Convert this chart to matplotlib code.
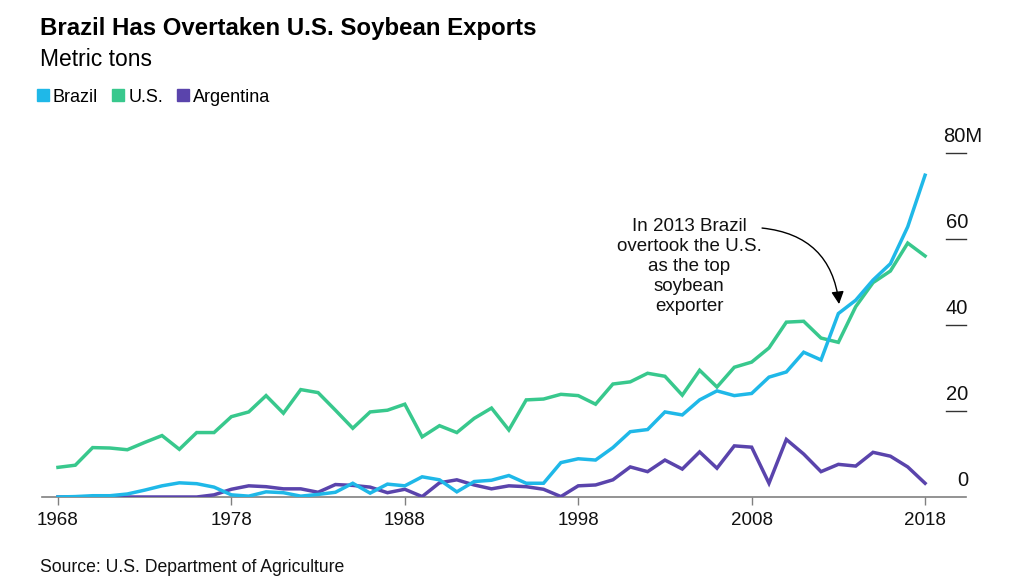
import matplotlib.pyplot as plt
from matplotlib.patches import Rectangle
from matplotlib.transforms import blended_transform_factory

plt.rcParams['font.family'] = ['Liberation Sans', 'DejaVu Sans']

years = list(range(1968, 2019))

# million metric tons
brazil = [0.0, 0.1, 0.3, 0.3, 0.7, 1.6, 2.6, 3.3, 3.1, 2.3,
          0.5, 0.2, 1.2, 1.0, 0.2, 0.6, 1.1, 3.2, 0.9, 3.0,
          2.6, 4.7, 4.0, 1.2, 3.6, 3.9, 5.0, 3.2, 3.2, 8.0,
          8.9, 8.6, 11.5, 15.2, 15.7, 19.8, 19.1, 22.6, 24.7, 23.6,
          24.1, 27.9, 29.1, 33.7, 31.9, 42.7, 45.8, 50.5, 54.3, 62.9,
          74.9]
us = [6.9, 7.4, 11.5, 11.4, 11.0, 12.7, 14.3, 11.1, 15.0, 15.0,
      18.7, 19.8, 23.6, 19.5, 25.0, 24.3, 20.2, 16.0, 19.8, 20.2,
      21.6, 14.0, 16.6, 15.0, 18.3, 20.7, 15.6, 22.6, 22.8, 23.9,
      23.6, 21.6, 26.3, 26.8, 28.8, 28.1, 23.7, 29.5, 25.6, 30.2,
      31.4, 34.7, 40.7, 40.9, 37.0, 36.0, 44.3, 49.9, 52.6, 59.1,
      56.1]
argentina = [0.0, 0.0, 0.0, 0.0, 0.0, 0.0, 0.0, 0.0, 0.0, 0.5,
             1.8, 2.6, 2.4, 1.9, 1.9, 1.1, 2.9, 2.7, 2.3, 1.0,
             1.8, 0.1, 3.3, 4.0, 2.8, 1.9, 2.6, 2.4, 1.8, 0.1,
             2.6, 2.8, 4.0, 7.0, 5.9, 8.6, 6.5, 10.5, 6.7, 11.9,
             11.6, 3.2, 13.4, 10.0, 5.9, 7.6, 7.2, 10.4, 9.5, 7.0,
             3.2]

x_ticks = [1968, 1978, 1988, 1998, 2008, 2018]
y_ticks = [0, 20, 40, 60, 80]
y_labels = ['0', '20', '40', '60', '80M']

c_brazil = '#1fb8e8'
c_us = '#38c88d'
c_arg = '#5a44ac'

W, H = 1024, 587
fig = plt.figure(figsize=(W / 100, H / 100), dpi=100)
ax = fig.add_axes([42 / W, 1 - 497 / H, 924 / W, (497 - 149) / H])

ax.plot(years, us, color=c_us, lw=2.5, solid_joinstyle='miter', zorder=3)
ax.plot(years, argentina, color=c_arg, lw=2.5, solid_joinstyle='miter', zorder=4)
ax.plot(years, brazil, color=c_brazil, lw=2.5, solid_joinstyle='miter', zorder=5)

ax.set_xlim(1967.08, 2020.36)
ax.set_ylim(0, 81)

for s in ['top', 'left', 'right']:
    ax.spines[s].set_visible(False)
ax.spines['bottom'].set_color('#808080')
ax.spines['bottom'].set_linewidth(1.2)

ax.set_xticks(x_ticks)
ax.set_xticklabels([str(y) for y in x_ticks], fontsize=13.5, color='#111111')
ax.tick_params(axis='x', length=6, width=1, color='#808080', pad=5)
ax.set_yticks([])

# right-hand value labels, short dash under each one
tr = blended_transform_factory(ax.transAxes, ax.transData)
x0 = (946 - 42) / 924
x_right = (968 - 42) / 924
for v, lab in zip(y_ticks, y_labels):
    if v > 0:
        ax.plot([x0, 1.0], [v, v], transform=tr, color='#333333', lw=1, clip_on=False)
    if lab.endswith('M'):
        ax.annotate(lab, xy=(x0, v), xycoords=tr, xytext=(-3, 11),
                    textcoords='offset pixels', ha='left', va='baseline',
                    fontsize=14.5, color='#111111', annotation_clip=False)
    else:
        ax.annotate(lab, xy=(x_right, v), xycoords=tr, xytext=(0, 11),
                    textcoords='offset pixels', ha='right', va='baseline',
                    fontsize=14.5, color='#111111', annotation_clip=False)

# the annotation
ax.text(2004.4, 64.9, 'In 2013 Brazil\novertook the U.S.\nas the top\nsoybean\nexporter',
        ha='center', va='top', fontsize=13.5, linespacing=1.22, color='#111111')
ax.annotate('', xy=(2013.04, 44.9), xytext=(2008.6, 62.6),
            arrowprops=dict(arrowstyle='-|>,head_length=0.5,head_width=0.25',
                            connectionstyle='arc3,rad=-0.4', color='black', lw=1,
                            shrinkA=0, shrinkB=0, mutation_scale=15))

# title block
fig.text(40 / W, 1 - 35 / H, 'Brazil Has Overtaken U.S. Soybean Exports',
         fontsize=17.3, fontweight='bold', va='baseline', ha='left')
fig.text(40 / W, 1 - 66 / H, 'Metric tons', fontsize=16.5, va='baseline', ha='left')

# legend
lx = 37
for name, col in [('Brazil', c_brazil), ('U.S.', c_us), ('Argentina', c_arg)]:
    fig.patches.append(Rectangle((lx / W, 1 - 101 / H), 12 / W, 12 / H,
                                 transform=fig.transFigure, color=col))
    t = fig.text((lx + 16) / W, 1 - 102 / H, name, fontsize=13, va='baseline', ha='left')
    fig.canvas.draw()
    bb = t.get_window_extent()
    lx = bb.x1 + 14

fig.text(40 / W, 1 - 572 / H, 'Source: U.S. Department of Agriculture',
         fontsize=12.7, va='baseline', ha='left', color='#111111')

fig.savefig('out.png', dpi=100)
